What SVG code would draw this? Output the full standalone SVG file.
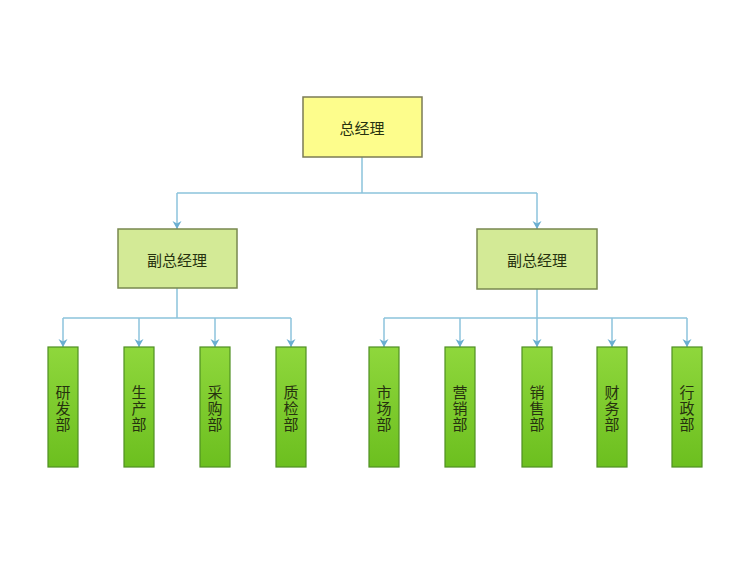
<svg xmlns="http://www.w3.org/2000/svg" width="737" height="579" viewBox="0 0 737 579">
<defs>
<linearGradient id="g" x1="0" y1="0" x2="0" y2="1">
<stop offset="0" stop-color="#8fd73c"/>
<stop offset="1" stop-color="#6cbf1f"/>
</linearGradient>
<marker id="a" markerWidth="9" markerHeight="10" refX="8.5" refY="5" orient="auto" markerUnits="userSpaceOnUse" viewBox="0 0 9 10">
<path d="M0.5,0.5 L8.5,5 L0.5,9.5 L3,5 Z" fill="#6aaed0"/>
</marker>
<style>
.c{fill:none;stroke:#8cc3dc;stroke-width:1.5}
.t{font-family:"Noto Sans CJK SC","Noto Sans",sans-serif;font-size:15px;fill:#26320f;text-anchor:middle;dominant-baseline:central}
.v{font-family:"Noto Sans CJK SC","Noto Sans",sans-serif;font-size:15px;fill:#26320f;text-anchor:middle;writing-mode:vertical-rl}
.d{fill:url(#g);stroke:#4f8f22;stroke-width:1.2}
</style>
</defs>
<rect width="737" height="579" fill="#ffffff"/>
<g id="connectors">
<path class="c" d="M362,157 V193 M177,193 H537"/>
<path class="c" d="M177,193 V229" marker-end="url(#a)"/>
<path class="c" d="M537,193 V229" marker-end="url(#a)"/>
<path class="c" d="M177,288 V318 M63,318 H291"/>
<path class="c" d="M63,318 V347" marker-end="url(#a)"/>
<path class="c" d="M139,318 V347" marker-end="url(#a)"/>
<path class="c" d="M215,318 V347" marker-end="url(#a)"/>
<path class="c" d="M291,318 V347" marker-end="url(#a)"/>
<path class="c" d="M537,289 V318 M384,318 H687"/>
<path class="c" d="M384,318 V347" marker-end="url(#a)"/>
<path class="c" d="M460,318 V347" marker-end="url(#a)"/>
<path class="c" d="M537,318 V347" marker-end="url(#a)"/>
<path class="c" d="M612,318 V347" marker-end="url(#a)"/>
<path class="c" d="M687,318 V347" marker-end="url(#a)"/>
</g>
<g id="gm">
<rect x="303" y="97" width="119" height="60" fill="#fdfd8c" stroke="#7b7b55" stroke-width="1.5"/>
<text class="t" x="362" y="127">总经理</text>
</g>
<g id="vp1">
<rect x="118" y="229" width="119" height="59" fill="#d3ea96" stroke="#78884f" stroke-width="1.5"/>
<text class="t" x="177" y="259">副总经理</text>
</g>
<g id="vp2">
<rect x="477" y="229" width="120" height="60" fill="#d3ea96" stroke="#78884f" stroke-width="1.5"/>
<text class="t" x="537" y="259">副总经理</text>
</g>
<g id="d1"><rect class="d" x="48" y="347" width="30" height="120"/><text class="v" x="63" y="392">研</text><text class="v" x="63" y="408">发</text><text class="v" x="63" y="424">部</text></g>
<g id="d2"><rect class="d" x="124" y="347" width="30" height="120"/><text class="v" x="139" y="392">生</text><text class="v" x="139" y="408">产</text><text class="v" x="139" y="424">部</text></g>
<g id="d3"><rect class="d" x="200" y="347" width="30" height="120"/><text class="v" x="215" y="392">采</text><text class="v" x="215" y="408">购</text><text class="v" x="215" y="424">部</text></g>
<g id="d4"><rect class="d" x="276" y="347" width="30" height="120"/><text class="v" x="291" y="392">质</text><text class="v" x="291" y="408">检</text><text class="v" x="291" y="424">部</text></g>
<g id="d5"><rect class="d" x="369" y="347" width="30" height="120"/><text class="v" x="384" y="392">市</text><text class="v" x="384" y="408">场</text><text class="v" x="384" y="424">部</text></g>
<g id="d6"><rect class="d" x="445" y="347" width="30" height="120"/><text class="v" x="460" y="392">营</text><text class="v" x="460" y="408">销</text><text class="v" x="460" y="424">部</text></g>
<g id="d7"><rect class="d" x="522" y="347" width="30" height="120"/><text class="v" x="537" y="392">销</text><text class="v" x="537" y="408">售</text><text class="v" x="537" y="424">部</text></g>
<g id="d8"><rect class="d" x="597" y="347" width="30" height="120"/><text class="v" x="612" y="392">财</text><text class="v" x="612" y="408">务</text><text class="v" x="612" y="424">部</text></g>
<g id="d9"><rect class="d" x="672" y="347" width="30" height="120"/><text class="v" x="687" y="392">行</text><text class="v" x="687" y="408">政</text><text class="v" x="687" y="424">部</text></g>
</svg>
